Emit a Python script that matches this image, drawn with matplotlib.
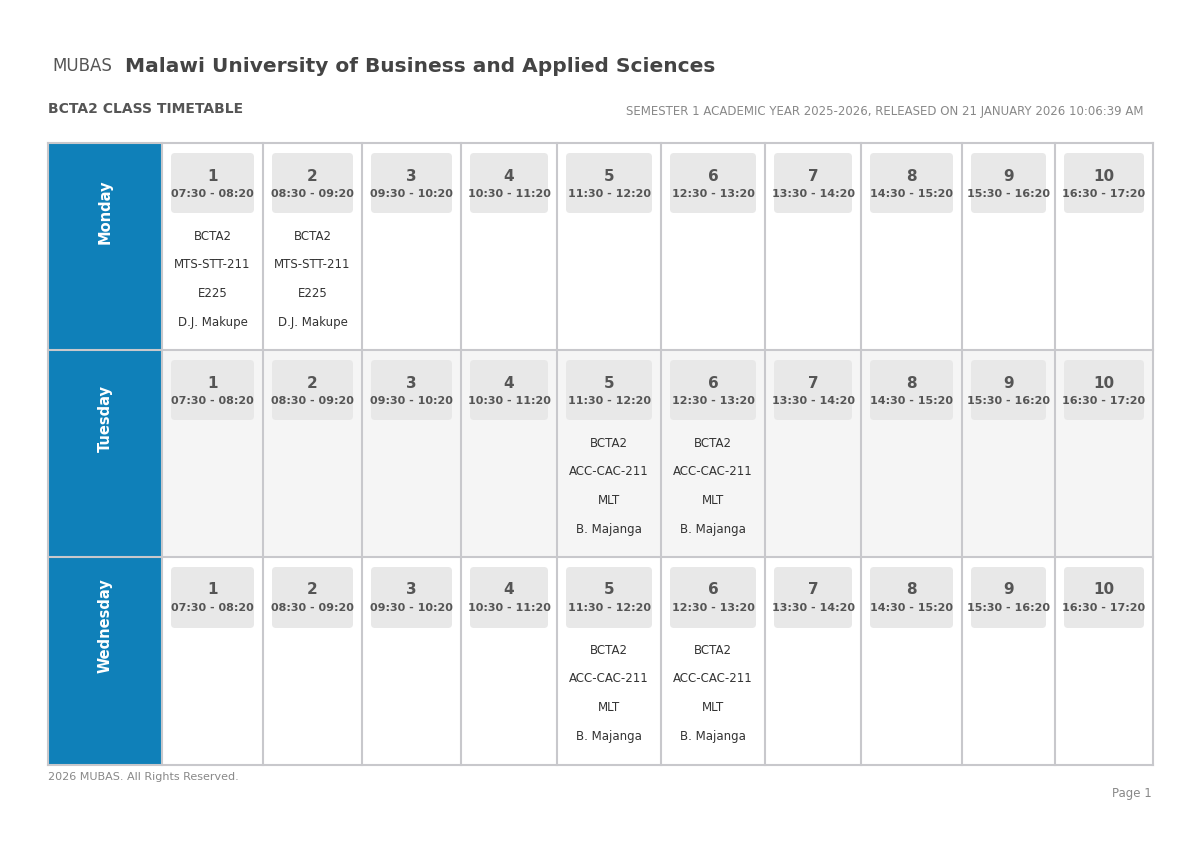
import matplotlib
matplotlib.use("Agg")
import matplotlib.pyplot as plt
from matplotlib.patches import Rectangle, FancyBboxPatch

days = ["Monday", "Tuesday", "Wednesday"]
slots = ["1", "2", "3", "4", "5", "6", "7", "8", "9", "10"]
times = ["07:30 - 08:20", "08:30 - 09:20", "09:30 - 10:20", "10:30 - 11:20", "11:30 - 12:20",
         "12:30 - 13:20", "13:30 - 14:20", "14:30 - 15:20", "15:30 - 16:20", "16:30 - 17:20"]
# (day index, slot index, lines)
entries = [
    (0, 0, ["BCTA2", "MTS-STT-211", "E225", "D.J. Makupe"]),
    (0, 1, ["BCTA2", "MTS-STT-211", "E225", "D.J. Makupe"]),
    (1, 4, ["BCTA2", "ACC-CAC-211", "MLT", "B. Majanga"]),
    (1, 5, ["BCTA2", "ACC-CAC-211", "MLT", "B. Majanga"]),
    (2, 4, ["BCTA2", "ACC-CAC-211", "MLT", "B. Majanga"]),
    (2, 5, ["BCTA2", "ACC-CAC-211", "MLT", "B. Majanga"]),
]

fig = plt.figure(figsize=(12, 8.49), dpi=100)
ax = fig.add_axes([0, 0, 1, 1])
ax.set_xlim(0, 1200); ax.set_ylim(849, 0); ax.axis("off")

colx = [162, 263, 362, 461, 557, 661, 765, 861, 962, 1055, 1153]
rowy = [143, 350, 557, 765]
dayx0 = 48
grey = "#555555"
gridc = "#c8c8cc"

for r, d in enumerate(days):
    y0, y1 = rowy[r], rowy[r + 1]
    bg = "#f5f5f5" if r == 1 else "white"
    ax.add_patch(Rectangle((colx[0], y0), colx[-1] - colx[0], y1 - y0, facecolor=bg, edgecolor="none", zorder=0))
    ax.add_patch(Rectangle((dayx0, y0), colx[0] - dayx0, y1 - y0, facecolor="#0f80b9", edgecolor="none", zorder=1))
    ax.text((dayx0 + colx[0]) / 2, (y0 + y1) / 2 - 35, d, rotation=90, color="white", fontsize=10.5,
            fontweight="bold", ha="center", va="center", zorder=3)
    for c in range(len(slots)):
        x0, x1 = colx[c], colx[c + 1]
        ax.add_patch(FancyBboxPatch((x0 + 9, y0 + 10), x1 - x0 - 18, y1 - y0 - 207 + 60,
                                    boxstyle="round,pad=0,rounding_size=4",
                                    facecolor="#e8e8e8", edgecolor="none", zorder=2))
        cx = (x0 + x1) / 2
        ax.text(cx, y0 + 33, slots[c], ha="center", va="center", fontsize=11, fontweight="bold", color=grey, zorder=3)
        ax.text(cx, y0 + 51, times[c], ha="center", va="center", fontsize=8, fontweight="bold", color=grey, zorder=3)

for r, c, lines in entries:
    cx = (colx[c] + colx[c + 1]) / 2
    for i, t in enumerate(lines):
        ax.text(cx, rowy[r] + 93 + i * 28.7, t, ha="center", va="center", fontsize=8.5, color="#333333", zorder=3)

# grid
for x in colx:
    ax.plot([x, x], [rowy[0], rowy[-1]], color=gridc, lw=1.5, zorder=4)
ax.plot([dayx0, dayx0], [rowy[0], rowy[-1]], color=gridc, lw=1.5, zorder=4)
for y in rowy:
    ax.plot([dayx0, colx[-1]], [y, y], color=gridc, lw=1.5, zorder=4)

ax.text(52, 66, "MUBAS", fontsize=12, color=grey, va="center", ha="left")
ax.text(125, 66, "Malawi University of Business and Applied Sciences", fontsize=14.5, fontweight="bold",
        color="#444444", va="center", ha="left")
ax.text(48, 109, "BCTA2 CLASS TIMETABLE", fontsize=10, fontweight="bold", color=grey, va="center")
ax.text(1143, 111, "SEMESTER 1 ACADEMIC YEAR 2025-2026, RELEASED ON 21 JANUARY 2026 10:06:39 AM",
        fontsize=8.5, color="#888888", va="center", ha="right")
ax.text(48, 777, "2026 MUBAS. All Rights Reserved.", fontsize=8, color="#888888", va="center")
ax.text(1152, 794, "Page 1", fontsize=8.5, color="#888888", va="center", ha="right")

fig.savefig("out.png", dpi=100)
